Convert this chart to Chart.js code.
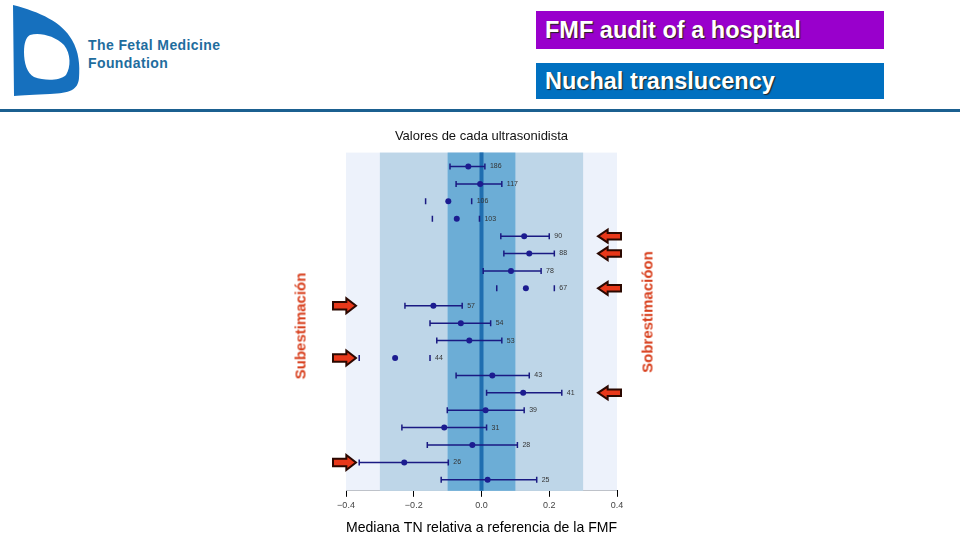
<!DOCTYPE html>
<html>
<head>
<meta charset="utf-8">
<script src="https://cdn.jsdelivr.net/npm/chart.js@4/dist/chart.umd.min.js"></script>
<style>
  html, body { margin:0; padding:0; background:#fff; }
  #wrap { position:relative; width:960px; height:540px; overflow:hidden; font-family:"Liberation Sans", Arial, sans-serif; }
  #c { position:absolute; left:0; top:0; }
  .box { position:absolute; left:536px; width:348px; color:#fff; font-weight:bold; font-size:23.5px; text-shadow:1px 1px 1px #222; box-sizing:border-box; padding-left:9px; }
  #b1 { top:11px; height:38px; line-height:39px; background:#9900cc; }
  #b2 { top:63px; height:36px; line-height:37px; background:#0070c0; }
  #fmf { position:absolute; left:88px; top:36px; color:#1f6d9e; font-weight:bold; font-size:14px; line-height:18px; letter-spacing:0.4px; }
  #rule { position:absolute; left:0; top:109px; width:960px; height:3px; background:#1b6090; }
  .side { position:absolute; color:#d8401e; font-weight:bold; font-size:15px; white-space:nowrap; transform-origin:center center; }
  #sub { left:300px; top:326px; transform:translate(-50%,-50%) rotate(-90deg); }
  #sob { left:647px; top:312px; transform:translate(-50%,-50%) rotate(-90deg); }
</style>
</head>
<body>
<div id="wrap">
  <svg style="position:absolute;left:0;top:0" width="90" height="100">
    <path fill="#1670be" fill-rule="evenodd"
      d="M13,5 C40,12 62,22 72,40 C79,52 80,65 79,78 C78,90 70,93 50,94 C35,95 22,95 14,96 Z
         M30,35 C40,32 55,36 64,45 C71,54 71,67 66,75 C59,81 45,81 34,77 C27,73 24,63 24,52 C24,43 26,37 30,35 Z"/>
  </svg>
  <div id="fmf">The Fetal Medicine<br>Foundation</div>
  <div class="box" id="b1">FMF audit of a hospital</div>
  <div class="box" id="b2">Nuchal translucency</div>
  <div id="rule"></div>
  <canvas id="c" width="960" height="540"></canvas>
  <div class="side" id="sub">Subestimación</div>
  <div class="side" id="sob">Sobrestimacióon</div>
</div>
<script>
// ---- data ----
const sampleSizes = ['186','117','106','103','90','88','78','67','57','54','53','44','43','41','39','31','28','26','25'];
const medians = [-0.039,-0.004,-0.098,-0.073,0.126,0.141,0.087,0.131,-0.142,-0.061,-0.036,-0.255,0.032,0.123,0.012,-0.110,-0.027,-0.228,0.018];
const lower   = [-0.093,-0.075,-0.165,-0.145,0.057,0.066,0.005,0.045,-0.226,-0.152,-0.132,-0.361,-0.075,0.015,-0.101,-0.235,-0.160,-0.361,-0.119];
const upper   = [0.010,0.060,-0.029,-0.006,0.200,0.215,0.176,0.215,-0.057,0.027,0.060,-0.152,0.141,0.237,0.126,0.015,0.106,-0.098,0.163];
const ciLineShown = [true,true,false,false,true,true,true,false,true,true,true,false,true,true,true,true,true,true,true];
const bandHalfWidths = [0.4, 0.3, 0.1];
const xTicks = [-0.4,-0.2,0,0.2,0.4];
const underRows = [9,12,18];   // rows flagged as subestimación
const overRows  = [5,6,8,14];  // rows flagged as sobrestimación

const bandColors = ['#edf2fb','#bed6e8','#6cadd6'];
const navy = '#1a1a82';

function drawArrow(ctx, tipX, cy, len, h, dir){
  const body = h*0.5, head = len*0.42;
  ctx.beginPath();
  const tail = tipX - dir*len, neck = tipX - dir*head;
  ctx.moveTo(tail, cy-body/2);
  ctx.lineTo(neck, cy-body/2);
  ctx.lineTo(neck, cy-h/2);
  ctx.lineTo(tipX, cy);
  ctx.lineTo(neck, cy+h/2);
  ctx.lineTo(neck, cy+body/2);
  ctx.lineTo(tail, cy+body/2);
  ctx.closePath();
  ctx.fillStyle = '#e8381a';
  ctx.fill();
  ctx.lineWidth = 2;
  ctx.strokeStyle = '#2b0800';
  ctx.lineJoin = 'miter';
  ctx.stroke();
}

const forestPlugin = {
  id: 'forest',
  beforeDatasetsDraw(chart){
    const {ctx, chartArea:a, scales:{x, y}} = chart;
    ctx.save();
    bandHalfWidths.forEach((w,i)=>{
      const l = x.getPixelForValue(-w), r = x.getPixelForValue(w);
      ctx.fillStyle = bandColors[i];
      ctx.fillRect(l, a.top, r-l, a.bottom-a.top);
    });
    const zx = x.getPixelForValue(0);
    ctx.strokeStyle = '#1f6eb0';
    ctx.lineWidth = 4;
    ctx.beginPath(); ctx.moveTo(zx, a.top); ctx.lineTo(zx, a.bottom); ctx.stroke();
    ctx.strokeStyle = navy;
    ctx.lineWidth = 1.5;
    medians.forEach((m,i)=>{
      const py = y.getPixelForValue(i+1);
      const l = x.getPixelForValue(lower[i]), r = x.getPixelForValue(upper[i]);
      ctx.beginPath();
      if (ciLineShown[i]) { ctx.moveTo(l, py); ctx.lineTo(r, py); }
      ctx.moveTo(l, py-3); ctx.lineTo(l, py+3);
      ctx.moveTo(r, py-3); ctx.lineTo(r, py+3);
      ctx.stroke();
    });
    ctx.restore();
  },
  afterDatasetsDraw(chart){
    const {ctx, scales:{x, y}} = chart;
    ctx.save();
    ctx.fillStyle = '#333';
    ctx.font = '7px "Liberation Sans", Arial, sans-serif';
    ctx.textBaseline = 'middle';
    sampleSizes.forEach((s,i)=>{
      ctx.fillText(s, x.getPixelForValue(upper[i]) + 5, y.getPixelForValue(i+1));
    });
    ctx.restore();
  },
  afterDraw(chart){
    const {ctx, chartArea:a, scales:{y}} = chart;
    ctx.save();
    underRows.forEach(r => drawArrow(ctx, a.left+10, y.getPixelForValue(r), 23, 15, 1));
    overRows.forEach(r => drawArrow(ctx, a.right-19, y.getPixelForValue(r), 23, 13, -1));
    ctx.restore();
  }
};

new Chart(document.getElementById('c'), {
  type: 'scatter',
  data: {
    datasets: [{
      data: medians.map((m,i)=>({x:m, y:i+1})),
      pointRadius: 3,
      pointHoverRadius: 3,
      pointBackgroundColor: '#1c1c90',
      pointBorderColor: '#1c1c90',
      pointBorderWidth: 0
    }]
  },
  options: {
    responsive: false,
    animation: false,
    devicePixelRatio: 1,
    layout: { padding: { left: 346, right: 343, top: 124, bottom: 0 } },
    plugins: {
      legend: { display: false },
      tooltip: { enabled: false },
      title: {
        display: true,
        text: 'Valores de cada ultrasonidista',
        color: '#111',
        font: { family: '"Liberation Sans", Arial, sans-serif', size: 13, weight: 'normal' },
        padding: { top: 5, bottom: 8 }
      }
    },
    scales: {
      x: {
        type: 'linear',
        min: -0.4, max: 0.4,
        afterBuildTicks: (s) => { s.ticks = xTicks.map(v => ({value: v})); },
        grid: { display: true, drawOnChartArea: false, drawTicks: true, tickLength: 6, color: '#000', tickWidth: 1 },
        border: { display: true, color: '#000', width: 1 },
        ticks: {
          padding: 3,
          color: '#444',
          font: { family: '"Liberation Sans", Arial, sans-serif', size: 9 },
          callback: (v) => (v < 0 ? '\u2212' : '') + Math.abs(v).toFixed(1)
        },
        title: {
          display: true,
          text: 'Mediana TN relativa a referencia de la FMF',
          color: '#000',
          font: { family: '"Liberation Sans", Arial, sans-serif', size: 14.5 },
          padding: { top: 6, bottom: 3 }
        }
      },
      y: {
        type: 'linear',
        display: false,
        reverse: true,
        min: 0.2, max: 19.63
      }
    }
  },
  plugins: [forestPlugin]
});
</script>
</body>
</html>
